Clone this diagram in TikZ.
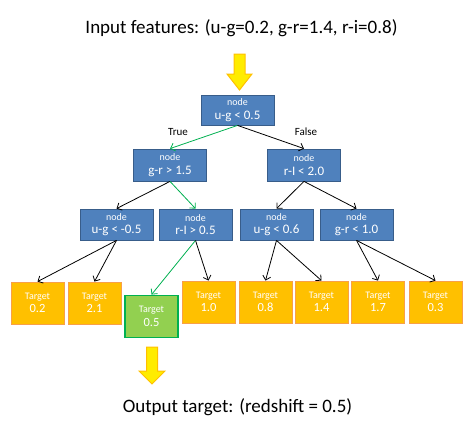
\documentclass[tikz,border=0pt]{standalone}
\usepackage{fontspec}
\setmainfont{Carlito}
\usetikzlibrary{arrows.meta, positioning}
\definecolor{splitblue}{HTML}{4F81BD}
\definecolor{splitedge}{HTML}{385D8A}
\definecolor{leaforange}{HTML}{FFC000}
\definecolor{leafedge}{HTML}{F8A048}
\definecolor{hitgreen}{HTML}{92D050}
\definecolor{hitedge}{HTML}{00B050}
\definecolor{arrowyellow}{HTML}{FFEC00}
\definecolor{arrowedge}{HTML}{FFC000}
\newcommand{\twoline}[2]{{\fontsize{10}{11}\selectfont #1}\\[0.5pt]#2}
\tikzset{
    %Define standard arrow tip
    >={Straight Barb[length=4pt,width=8pt]},
    %Define style for split boxes
    split/.style={
           rectangle,
           fill=splitblue,
           draw=splitedge, thick,
           minimum width=73pt,
           minimum height=31pt,
           inner sep=0pt,
           text=white,
           align=center,
           font=\fontsize{13}{13}\selectfont},
    %Define style for leaf boxes
    leaf/.style={
           split,
           fill=leaforange,
           draw=leafedge,
           minimum width=53pt,
           minimum height=42pt,
           font=\fontsize{12.5}{13}\selectfont},
    hit/.style={
           leaf,
           fill=hitgreen,
           draw=hitedge, line width=1.8pt},
    % Define arrow styles
    pil/.style={
           ->,
           line width=0.8pt},
    gpil/.style={
           pil,
           draw=hitedge},
    bigarrow/.style={
           fill=arrowyellow,
           draw=arrowedge,
           line width=1pt,
           line join=miter},
    big/.style={font=\fontsize{19}{22}\selectfont},
    small/.style={font=\fontsize{11}{12}\selectfont}
}
\begin{document}
\begin{tikzpicture}[x=1pt, y=-1pt]
	\useasboundingbox (0,0) rectangle (474,431);
	%
	% textes
	%
	\node[big] (inp) at (241.5,28) {Input features: (u-g=0.2, g-r=1.4, r-i=0.8)};
	\node[big] (outp) at (237.5,407) {Output target: (redshift = 0.5)};
	%
	% noeuds
	%
	\node[split, minimum height=30pt] (root) at (237.5,110) {\twoline{node}{u-g < 0.5}};
	\node[split, minimum height=32pt] (gr) at (170,165) {\twoline{node}{g-r > 1.5}};
	\node[split, minimum height=32pt] (ri) at (304,165) {\twoline{node}{r-I < 2.0}};
	\node[split] (uga) at (116.5,224.5) {\twoline{node}{u-g < -0.5}};
	\node[split] (rib) at (195.5,224.5) {\twoline{node}{r-I > 0.5}};
	\node[split] (ugc) at (276.5,224.5) {\twoline{node}{u-g < 0.6}};
	\node[split] (grd) at (356.5,224.5) {\twoline{node}{g-r < 1.0}};
	\node[small] (ltrue) at (178,132) {True};
	\node[small] (lfalse) at (306,132) {False};
	%
	% feuilles
	%
	\node[leaf] (t1) at (37.5,303) {\twoline{Target}{0.2}};
	\node[leaf] (t2) at (94.5,303) {\twoline{Target}{2.1}};
	\node[hit] (t3) at (151.5,316.5) {\twoline{Target}{0.5}};
	\node[leaf] (t4) at (208.5,302) {\twoline{Target}{1.0}};
	\node[leaf] (t5) at (265.5,302) {\twoline{Target}{0.8}};
	\node[leaf] (t6) at (321.5,302) {\twoline{Target}{1.4}};
	\node[leaf] (t7) at (378,302) {\twoline{Target}{1.7}};
	\node[leaf] (t8) at (435.5,302) {\twoline{Target}{0.3}};
	%
	% Liens
	%
	\draw[gpil] (root.south) to (gr.north);
	\draw[pil] (root.south) to (ri.north);
	\draw[pil] (gr.south) to (uga.north);
	\draw[gpil] (gr.south) to (rib.north);
	\draw[pil] (ri.south) to (ugc.north);
	\draw[pil] (ri.south) to (grd.north);
	\draw[pil] (uga.south) to (t1.north);
	\draw[pil] (uga.south) to (t2.north);
	\draw[gpil] (rib.south) to (t3.north);
	\draw[pil] (rib.south) to (t4.north);
	\draw[pil] (ugc.south) to (t5.north);
	\draw[pil] (ugc.south) to (t6.north);
	\draw[pil] (grd.south) to (t7.north);
	\draw[pil] (grd.south) to (t8.north);
	%
	% fleches jaunes
	%
	\draw[bigarrow] (234,54) -- (245,54) -- (245,74) -- (252,74) -- (239.5,90)
		-- (227,74) -- (234,74) -- cycle;
	\draw[bigarrow] (146.5,347) -- (157.5,347) -- (157.5,371) -- (165,371) -- (152,384)
		-- (139,371) -- (146.5,371) -- cycle;
\end{tikzpicture}
\end{document}
